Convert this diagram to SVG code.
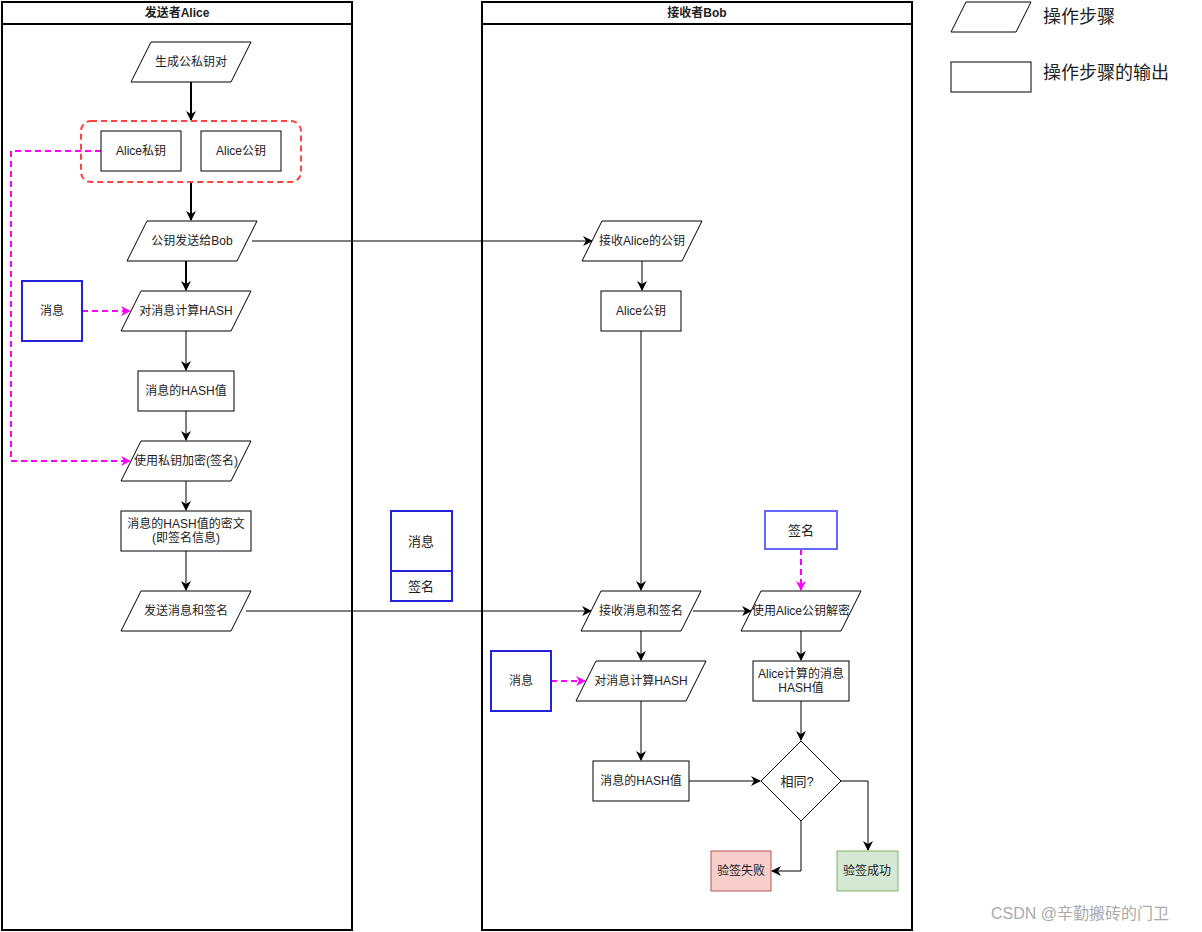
<svg xmlns="http://www.w3.org/2000/svg" width="1202" height="932" viewBox="0 0 1202 932">
<defs>
<marker id="a" markerWidth="10" markerHeight="10" refX="9" refY="5" orient="auto" markerUnits="userSpaceOnUse"><path d="M0,0 L10,5 L0,10 L3,5 Z" fill="#000"/></marker>
<marker id="m" markerWidth="10" markerHeight="10" refX="9" refY="5" orient="auto" markerUnits="userSpaceOnUse"><path d="M0,0 L10,5 L0,10 L3,5 Z" fill="#f0f"/></marker>
<style>
text{font-family:"Liberation Sans","Noto Sans CJK SC",sans-serif;font-size:12px;text-anchor:middle;dominant-baseline:central;fill:#222}
text.l{font-size:18px;text-anchor:start}
text.m{font-size:13px}
text.w{font-size:16px;fill:#aaa}
.s{fill:#fff;stroke:#000;stroke-width:1}
.lane{fill:#fff;stroke:#000;stroke-width:2}
.c{fill:none;stroke:#000;stroke-width:1}
.b{fill:none;stroke:#000;stroke-width:2}
.p{fill:none;stroke:#f0f;stroke-width:2;stroke-dasharray:6 4}
.blue{fill:#fff;stroke:#2222dd;stroke-width:2}
</style>
</defs>
<g id="laneA"><rect class="lane" x="2" y="2" width="350" height="928"/><line x1="2" y1="24" x2="352" y2="24" stroke="#000" stroke-width="2"/><text x="177" y="13" font-weight="bold">发送者Alice</text></g>
<g id="laneB"><rect class="lane" x="482" y="2" width="430" height="928"/><line x1="482" y1="24" x2="912" y2="24" stroke="#000" stroke-width="2"/><text x="697" y="13" font-weight="bold">接收者Bob</text></g>
<g id="connectors">
<line class="b" x1="191" y1="82" x2="191" y2="120" marker-end="url(#a)"/>
<line class="b" x1="191" y1="182" x2="191" y2="220" marker-end="url(#a)"/>
<line class="b" x1="186" y1="261" x2="186" y2="290" marker-end="url(#a)"/>
<line class="c" x1="186" y1="331" x2="186" y2="370" marker-end="url(#a)"/>
<line class="c" x1="186" y1="411" x2="186" y2="440" marker-end="url(#a)"/>
<line class="c" x1="186" y1="481" x2="186" y2="510" marker-end="url(#a)"/>
<line class="c" x1="186" y1="551" x2="186" y2="590" marker-end="url(#a)"/>
<polyline class="p" points="101,151 11,151 11,461 130,461" marker-end="url(#m)"/>
<line class="p" x1="82" y1="311" x2="130" y2="311" marker-end="url(#m)"/>
<line class="c" x1="252" y1="241" x2="592" y2="241" marker-end="url(#a)"/>
<line class="c" x1="642" y1="261" x2="642" y2="290" marker-end="url(#a)"/>
<line class="c" x1="641" y1="331" x2="641" y2="590" marker-end="url(#a)"/>
<line class="c" x1="246" y1="611" x2="591" y2="611" marker-end="url(#a)"/>
<line class="c" x1="693" y1="611" x2="751" y2="611" marker-end="url(#a)"/>
<line class="p" x1="801" y1="549" x2="801" y2="590" marker-end="url(#m)"/>
<line class="c" x1="641" y1="631" x2="641" y2="660" marker-end="url(#a)"/>
<line class="p" x1="551" y1="681" x2="585" y2="681" marker-end="url(#m)"/>
<line class="c" x1="801" y1="631" x2="801" y2="660" marker-end="url(#a)"/>
<line class="c" x1="641" y1="701" x2="641" y2="760" marker-end="url(#a)"/>
<line class="c" x1="801" y1="701" x2="801" y2="740" marker-end="url(#a)"/>
<line class="c" x1="689" y1="781" x2="760" y2="781" marker-end="url(#a)"/>
<polyline class="c" points="801,821 801,871 772,871" marker-end="url(#a)"/>
<polyline class="c" points="841,781 868,781 868,850" marker-end="url(#a)" stroke="#555"/>
</g>
<g id="n1"><polygon class="s" points="151,42 251,42 231,82 131,82"/><text x="191" y="62">生成公私钥对</text></g>
<g id="keys"><rect x="81" y="121" width="220" height="61" rx="10" fill="none" stroke="#f44" stroke-width="2" stroke-dasharray="6 4"/>
<rect class="s" x="101" y="131" width="80" height="40"/><text x="141" y="151">Alice私钥</text>
<rect class="s" x="201" y="131" width="80" height="40"/><text x="241" y="151">Alice公钥</text></g>
<g id="n2"><polygon class="s" points="147,221 257,221 237,261 127,261"/><text x="192" y="241">公钥发送给Bob</text></g>
<g id="n3"><polygon class="s" points="141,291 251,291 231,331 121,331"/><text x="186" y="311">对消息计算HASH</text></g>
<g id="msgA"><rect class="blue" x="22" y="281" width="60" height="60"/><text x="52" y="311">消息</text></g>
<g id="n4"><rect class="s" x="138" y="371" width="96" height="40"/><text x="186" y="391">消息的HASH值</text></g>
<g id="n5"><polygon class="s" points="141,441 251,441 231,481 121,481"/><text x="186" y="461">使用私钥加密(签名)</text></g>
<g id="n6"><rect class="s" x="121" y="511" width="130" height="40"/><text x="186" y="524">消息的HASH值的密文</text><text x="186" y="538">(即签名信息)</text></g>
<g id="n7"><polygon class="s" points="141,591 251,591 231,631 121,631"/><text x="186" y="611">发送消息和签名</text></g>
<g id="pkg"><rect class="blue" x="391" y="511" width="61" height="90"/><line x1="391" y1="571" x2="452" y2="571" stroke="#2222dd" stroke-width="2"/><text class="m" x="421" y="541">消息</text><text class="m" x="421" y="586">签名</text></g>
<g id="b1"><polygon class="s" points="602,221 702,221 682,261 582,261"/><text x="642" y="241">接收Alice的公钥</text></g>
<g id="b2"><rect class="s" x="601" y="291" width="80" height="40"/><text x="641" y="311">Alice公钥</text></g>
<g id="b3"><polygon class="s" points="601,591 701,591 681,631 581,631"/><text x="641" y="611">接收消息和签名</text></g>
<g id="b4"><polygon class="s" points="761,591 861,591 841,631 741,631"/><text x="801" y="611">使用Alice公钥解密</text></g>
<g id="sig"><rect x="765" y="511" width="72" height="38" fill="#fff" stroke="#66f" stroke-width="2"/><text class="m" x="801" y="530">签名</text></g>
<g id="b5"><polygon class="s" points="596,661 706,661 686,701 576,701"/><text x="641" y="681">对消息计算HASH</text></g>
<g id="msgB"><rect class="blue" x="491" y="651" width="60" height="60"/><text x="521" y="681">消息</text></g>
<g id="b6"><rect class="s" x="753" y="661" width="96" height="40"/><text x="801" y="674">Alice计算的消息</text><text x="801" y="688">HASH值</text></g>
<g id="b7"><rect class="s" x="593" y="761" width="96" height="40"/><text x="641" y="781">消息的HASH值</text></g>
<g id="dec"><polygon class="s" points="801,741 841,781 801,821 761,781"/><text class="m" x="797" y="781">相同?</text></g>
<g id="fail"><rect x="711" y="851" width="60" height="40" fill="#f8cecc" stroke="#b85450"/><text x="741" y="871">验签失败</text></g>
<g id="ok"><rect x="837" y="851" width="61" height="40" fill="#d5e8d4" stroke="#82b366"/><text x="867" y="871">验签成功</text></g>
<g id="legend"><polygon class="s" points="966,2 1031,2 1016,32 951,32" stroke-width="2"/><text class="l" x="1043" y="17">操作步骤</text>
<rect class="s" x="951" y="62" width="80" height="30" stroke-width="2"/><text class="l" x="1043" y="73">操作步骤的输出</text></g>
<text class="w" x="1080" y="913">CSDN @辛勤搬砖的门卫</text>
</svg>
